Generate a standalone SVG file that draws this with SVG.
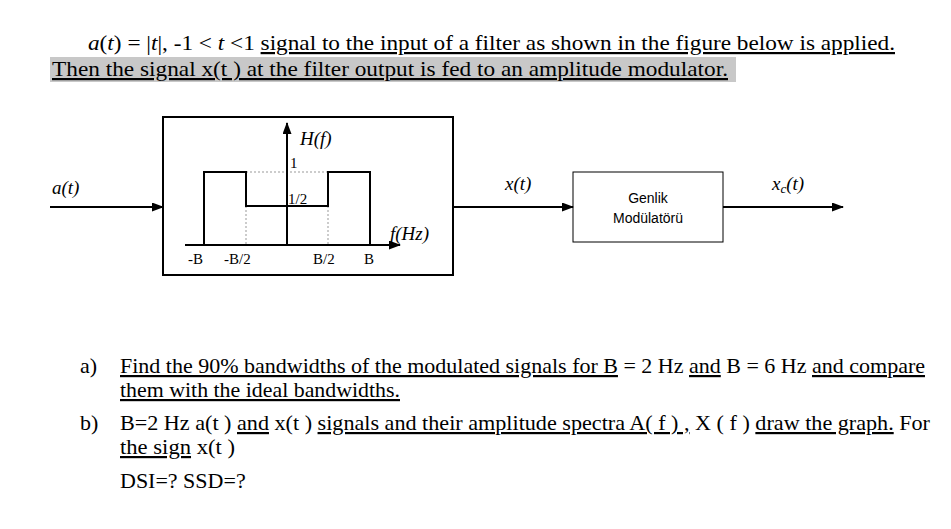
<svg xmlns="http://www.w3.org/2000/svg" width="951" height="529" viewBox="0 0 951 529">
<style>
.t{font-family:"Liberation Serif",serif;font-size:22px;fill:#000}
.u{text-decoration:underline}
.m{font-family:"Liberation Serif",serif;font-style:italic;font-size:19px}
.s{font-family:"Liberation Serif",serif;font-size:15px}
.g{font-family:"Liberation Sans",sans-serif;font-size:14px}
.ln{stroke:#000;stroke-width:2;fill:none}
.d{stroke:#999;stroke-width:1;stroke-dasharray:2,2;fill:none}
</style>
<defs><marker id="a" markerWidth="12" markerHeight="9" refX="11" refY="4.5" orient="auto" markerUnits="userSpaceOnUse"><path d="M0,0L12,4.5L0,9z"/></marker></defs>
<rect width="951" height="529" fill="#fff"/>
<g id="header">
<text class="t" x="88" y="50" textLength="807" lengthAdjust="spacingAndGlyphs"><tspan font-style="italic">a</tspan>(<tspan font-style="italic">t</tspan>) = |<tspan font-style="italic">t</tspan>|, -1 &lt; <tspan font-style="italic">t</tspan> &lt;1 <tspan class="u">signal to the input of a filter as shown in the figure below is applied.</tspan></text>
<rect x="50" y="57" width="686" height="25" fill="#c8c8c8"/>
<text class="t u" x="52" y="76" textLength="676" lengthAdjust="spacingAndGlyphs">Then the signal x(t ) at the filter output is fed to an amplitude modulator.</text>
</g>
<g id="filter">
<rect x="163" y="117" width="290" height="158" class="ln"/>
<path class="d" d="M246,172H328M246,206V245M328,206V245"/>
<path class="ln" d="M204,245V172H246V206H328V172H370V245"/>
<line x1="185" y1="245" x2="400" y2="245" stroke="#000" stroke-width="2" marker-end="url(#a)"/>
<line x1="287" y1="245" x2="287" y2="123" stroke="#000" stroke-width="2" marker-end="url(#a)"/>
<text class="m" x="300" y="145">H(f)</text>
<text class="s" x="290" y="168">1</text>
<text class="s" x="288" y="204">1/2</text>
<text class="m" x="390" y="240">f(Hz)</text>
<text class="s" x="188" y="264">-B</text>
<text class="s" x="224" y="264">-B/2</text>
<text class="s" x="313" y="264">B/2</text>
<text class="s" x="364" y="264">B</text>
</g>
<g id="modulator">
<rect x="573" y="172" width="150" height="70" fill="#fff" stroke="#000"/>
<text class="g" x="648" y="203" text-anchor="middle">Genlik</text>
<text class="g" x="648" y="223" text-anchor="middle">Modülatörü</text>
</g>
<g id="connectors">
<line x1="50" y1="207" x2="163" y2="207" stroke="#000" stroke-width="2" marker-end="url(#a)"/>
<line x1="453" y1="207" x2="573" y2="207" stroke="#000" stroke-width="2" marker-end="url(#a)"/>
<line x1="723" y1="207" x2="843" y2="207" stroke="#000" stroke-width="2" marker-end="url(#a)"/>
<text class="m" x="52" y="194">a(t)</text>
<text class="m" x="505" y="190">x(t)</text>
<text class="m" x="772" y="190">x<tspan font-size="13" dy="3">c</tspan><tspan dy="-3">(t)</tspan></text>
</g>
<g id="questions" class="t" font-size="20">
<text x="80" y="373">a)</text>
<text x="120" y="373" textLength="805" lengthAdjust="spacingAndGlyphs"><tspan class="u">Find the 90% bandwidths of the modulated signals for B</tspan> = 2 Hz <tspan class="u">and</tspan> B = 6 Hz <tspan class="u">and compare</tspan></text>
<text class="u" x="120" y="397" textLength="280" lengthAdjust="spacingAndGlyphs">them with the ideal bandwidths.</text>
<text x="80" y="430">b)</text>
<text x="120" y="430" textLength="810" lengthAdjust="spacingAndGlyphs">B=2 Hz a(t ) <tspan class="u">and</tspan> x(t ) <tspan class="u">signals and their amplitude spectra  A( f ) ,</tspan> X ( f ) <tspan class="u">draw the graph.</tspan> For</text>
<text x="120" y="454" textLength="115" lengthAdjust="spacingAndGlyphs"><tspan class="u">the sign</tspan> x(t )</text>
<text x="120" y="488">DSI=? SSD=?</text>
</g>
</svg>
